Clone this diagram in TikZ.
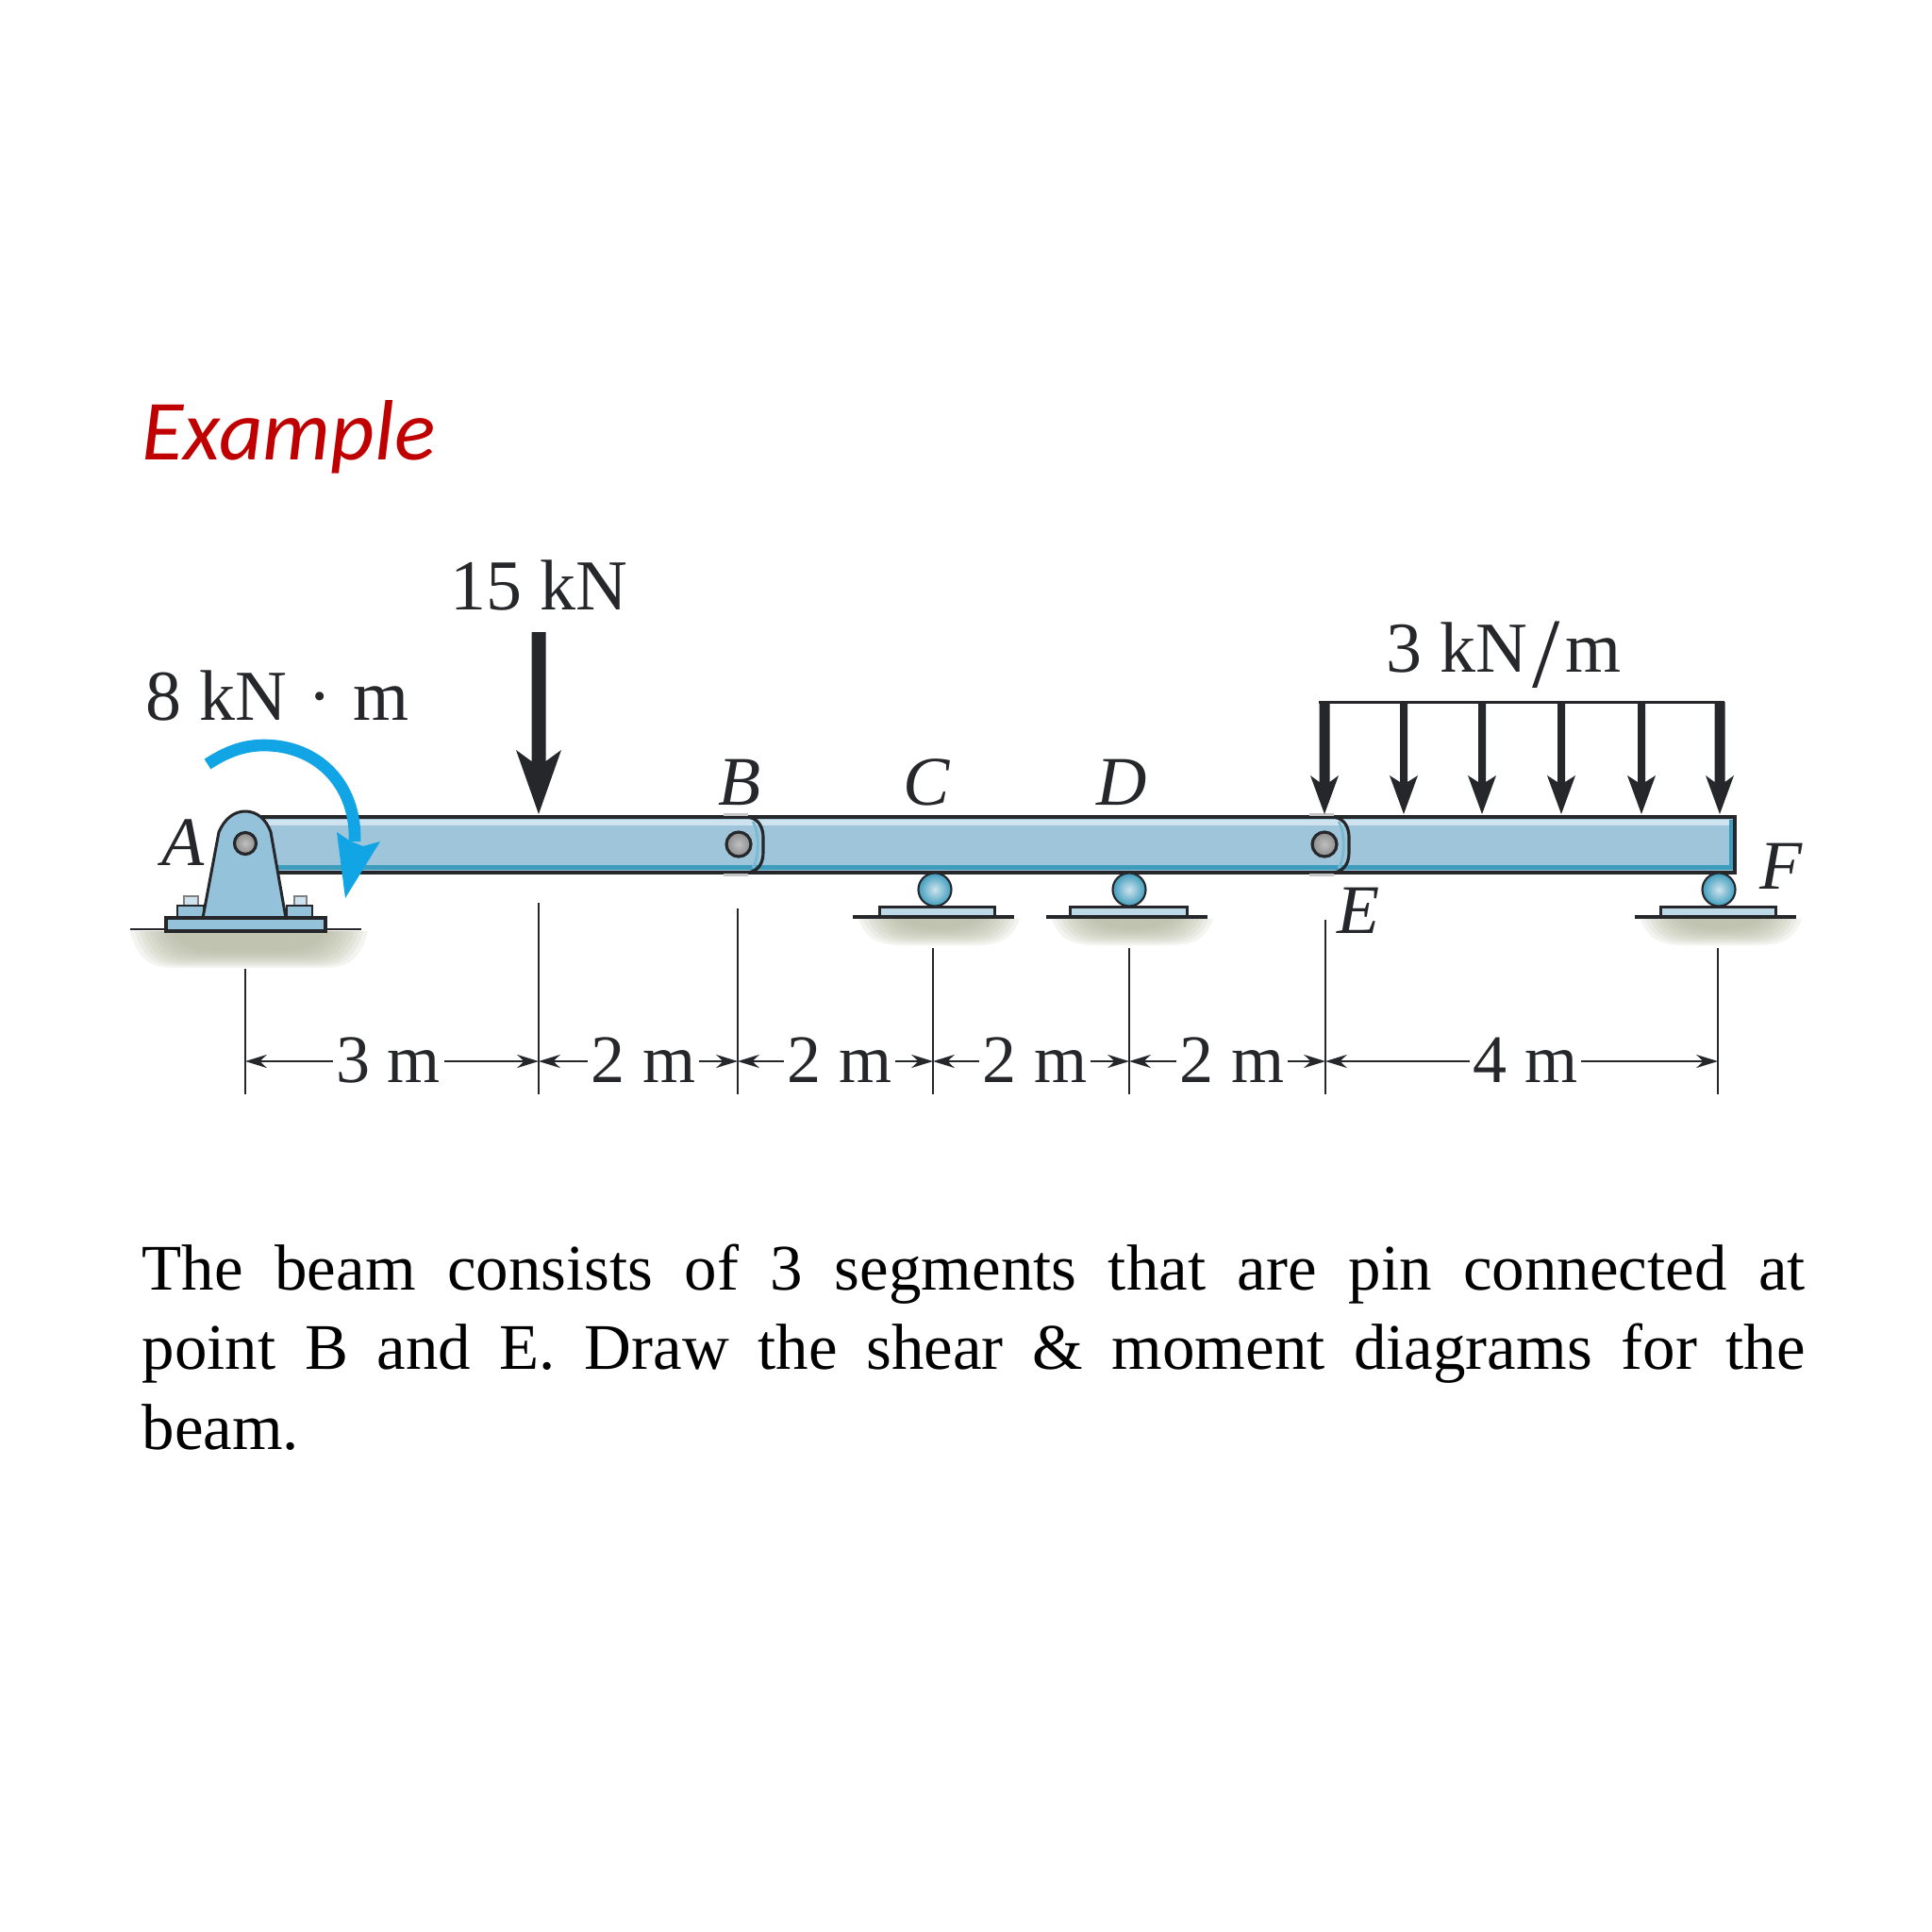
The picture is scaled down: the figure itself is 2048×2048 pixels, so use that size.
\documentclass[tikz,border=0pt]{standalone}
\usepackage{fontspec}
\setmainfont{Liberation Serif}
\newfontfamily\exfont{Carlito}
\usetikzlibrary{arrows.meta}
\definecolor{beambody}{HTML}{9FC5DA}
\definecolor{beamlight}{HTML}{CFE3EE}
\definecolor{beamdark}{HTML}{3E9DBD}
\definecolor{ink}{HTML}{26272B}
\definecolor{arcblue}{HTML}{12A5E6}
\definecolor{groundcol}{HTML}{B4B8A0}
\definecolor{bracket}{HTML}{93C2DA}
\definecolor{exred}{HTML}{C00000}
\tikzset{
  lab/.style={anchor=base,inner sep=0pt,text=ink,font=\fontsize{21.6}{25}\selectfont},
  ital/.style={lab,font=\fontsize{21}{25}\selectfont\itshape},
  dimlab/.style={anchor=base,inner xsep=1pt,inner ysep=0pt,text=ink,font=\fontsize{20.5}{25}\selectfont},
  extline/.style={draw=ink,line width=0.5pt},
  dimarrow/.style={draw=ink,line width=0.55pt,-{Stealth[length=6.5pt,width=4pt]}},
  outline/.style={draw=ink,line width=0.9pt},
  groundline/.style={draw=ink,line width=1.4pt},
  ballshade/.style={inner color=beamlight,outer color=beamdark,draw=ink,line width=0.6pt},
  pinshade/.style={inner color=gray!50,outer color=gray!90,draw=ink,line width=0.9pt},
}
\newcommand\groundshade[4]{% x1 x2 ytop ybot
  \foreach \i in {0,...,9}{
    \fill[groundcol,opacity=0.15]
      (#1+\i*5,#3) .. controls (#1+\i*5+10,#4-\i*2) and (#1+\i*5+30,#4-\i*2) .. (#1+\i*5+55,#4-\i*2)
      -- (#2-\i*5-55,#4-\i*2) .. controls (#2-\i*5-30,#4-\i*2) and (#2-\i*5-10,#4-\i*2) .. (#2-\i*5,#3) -- cycle;
  }}
\newcommand\loadarrow[2]{% x, shaft half width
  \fill[ink] (#1-#2,744) -- (#1+#2,744) -- (#1+#2,829) -- (#1+15,822) -- (#1,863) -- (#1-15,822) -- (#1-#2,829) -- cycle;}
\newcommand\rollerset[5]{% ball x, plate x1, plate x2, ground x1, ground x2
  \groundshade{#4+6}{#5+6}{974}{1002}
  \draw[ballshade] (#1,943) circle[radius=17.5];
  \filldraw[fill=beamlight!70!bracket,draw=ink,line width=0.85pt] (#2,961) rectangle (#3,971);
  \draw[groundline] (#4,972) -- (#5,972);}
\newcommand\joint[1]{% pin x
  \fill[gray!45] (#1-16,862) rectangle (#1+10,865);
  \fill[gray!45] (#1-16,926) rectangle (#1+10,929);
  \draw[beamdark!70,line width=0.8pt] (#1+15,871) .. controls (#1+22,880) and (#1+22,910) .. (#1+15,920);
  \draw[outline] (#1+10,866) .. controls (#1+22,868) and (#1+26,878) .. (#1+26,888)
     -- (#1+26,903) .. controls (#1+26,914) and (#1+22,923) .. (#1+10,925);
  \draw[pinshade] (#1,895) circle[radius=13];}
\begin{document}
\begin{tikzpicture}[x=0.01cm,y=-0.01cm]
\useasboundingbox (0,0) rectangle (2048,2048);
\fill[white] (0,0) rectangle (2048,2048);

% title
\node[anchor=base west,inner sep=0pt,text=exred,font=\fontsize{25.8}{30}\selectfont\exfont\itshape] (title) at (150,487) {Example};

% ground shadows
\groundshade{138}{390}{987}{1026}

% beam
\fill[beambody] (277,866) rectangle (1839,925);
\fill[beamlight] (277,869) rectangle (1836,875);
\fill[beamdark] (277,917) rectangle (1836,922);
\fill[beamdark] (1833,869) rectangle (1837,922);
\draw[outline] (277,866) -- (1839,866) -- (1839,925) -- (277,925);

% joints
\joint{783}
\joint{1404}

% bracket support at A
\draw[groundline,line width=0.7pt] (138,985) -- (383,985);
\filldraw[fill=beamlight,draw=gray,line width=0.4pt] (195,950) rectangle (210,960);
\filldraw[fill=beamlight,draw=gray,line width=0.4pt] (312,950) rectangle (325,960);
\filldraw[fill=bracket,draw=ink,line width=0.6pt] (188,960) rectangle (216,973);
\filldraw[fill=bracket,draw=ink,line width=0.6pt] (304,960) rectangle (331,973);
\filldraw[fill=bracket,draw=ink,line width=0.85pt]
  (215,973) -- (232,882) .. controls (238,868) and (248,860) .. (260,860)
  .. controls (272,860) and (282,868) .. (287,882) -- (303,973) -- cycle;
\filldraw[fill=bracket,draw=ink,line width=1.2pt] (176,973) rectangle (345,987);
\draw[pinshade] (260,894) circle[radius=11.5];

% roller supports
\rollerset{991}{932}{1054}{904}{1075}
\rollerset{1197}{1134}{1258}{1109}{1280}
\rollerset{1822}{1760}{1882}{1733}{1904}

% moment
\draw[arcblue,line width=3.6pt] (220,810) .. controls (240,797) and (258,790) .. (280,790)
  .. controls (335,790) and (378,830) .. (376,892);
\fill[arcblue] (366,952) -- (357,882) -- (372,892) -- (385,897) -- (403,892) -- cycle;

% 15 kN force
\fill[ink] (563.5,670) -- (578.5,670) -- (578.5,807) -- (595,795) -- (571,863) -- (547,795) -- (563.5,807) -- cycle;

% distributed load
\draw[ink,line width=0.85pt] (1398,744) -- (1828,744);
\loadarrow{1404}{5.5}
\loadarrow{1488}{4}
\loadarrow{1571}{4}
\loadarrow{1655}{4}
\loadarrow{1740}{4}
\loadarrow{1823}{5.5}

% labels
\node[lab] (l15) at (571,646) {15 kN};
\node[lab] (l8) at (294,763) {8 kN\kern1pt\ ·\ \kern1pt m};
\node[lab] (l3) at (1594,712) {3 kN\kern1.5pt\raisebox{-4.7pt}{\fontsize{30}{30}\selectfont/}\kern1.5pt m};
\node[ital] (A) at (194,917) {A};
\node[ital] (B) at (784,853) {B};
\node[ital] (C) at (982,853) {C};
\node[ital] (D) at (1189,853) {D};
\node[ital] (E) at (1440,989) {E};
\node[ital] (F) at (1888,942) {F};

% extension lines
\coordinate (dy) at (0,1125);
\coordinate (xAt) at (260,1027); \coordinate (xAb) at (260,1160);
\coordinate (xPt) at (571,957);  \coordinate (xPb) at (571,1160);
\coordinate (xBt) at (782,963);  \coordinate (xBb) at (782,1160);
\coordinate (xCt) at (989,1005); \coordinate (xCb) at (989,1160);
\coordinate (xDt) at (1197,1005);\coordinate (xDb) at (1197,1160);
\coordinate (xEt) at (1405,975); \coordinate (xEb) at (1405,1160);
\coordinate (xFt) at (1821,1005);\coordinate (xFb) at (1821,1160);
\foreach \n in {A,P,B,C,D,E,F}{\draw[extline] (x\n t) -- (x\n b);}

% dimensions
\node[dimlab] (d3) at (412,1147) {3 m};
\node[dimlab] (d2a) at (682,1147) {2 m};
\node[dimlab] (d2b) at (890,1147) {2 m};
\node[dimlab] (d2c) at (1097,1147) {2 m};
\node[dimlab] (d2d) at (1306,1147) {2 m};
\node[dimlab] (d4) at (1617,1147) {4 m};
\foreach \lab/\lft/\rgt in {d3/xAt/xPt,d2a/xPt/xBt,d2b/xBt/xCt,d2c/xCt/xDt,d2d/xDt/xEt,d4/xEt/xFt}{
  \draw[dimarrow] (\lab.west |- dy) -- (\lft |- dy);
  \draw[dimarrow] (\lab.east |- dy) -- (\rgt |- dy);
}

% statement
\node[anchor=base west,inner sep=0pt,text=black,align=left,font=\fontsize{19.6}{23.9}\selectfont] (txt) at (150,1536)
 {\makebox[1763\dimexpr 0.01cm\relax][s]{The beam consists of 3 segments that are pin connected at}\\
  \makebox[1763\dimexpr 0.01cm\relax][s]{point B and E. Draw the shear \& moment diagrams for the}\\
  beam.};
\end{tikzpicture}
\end{document}
